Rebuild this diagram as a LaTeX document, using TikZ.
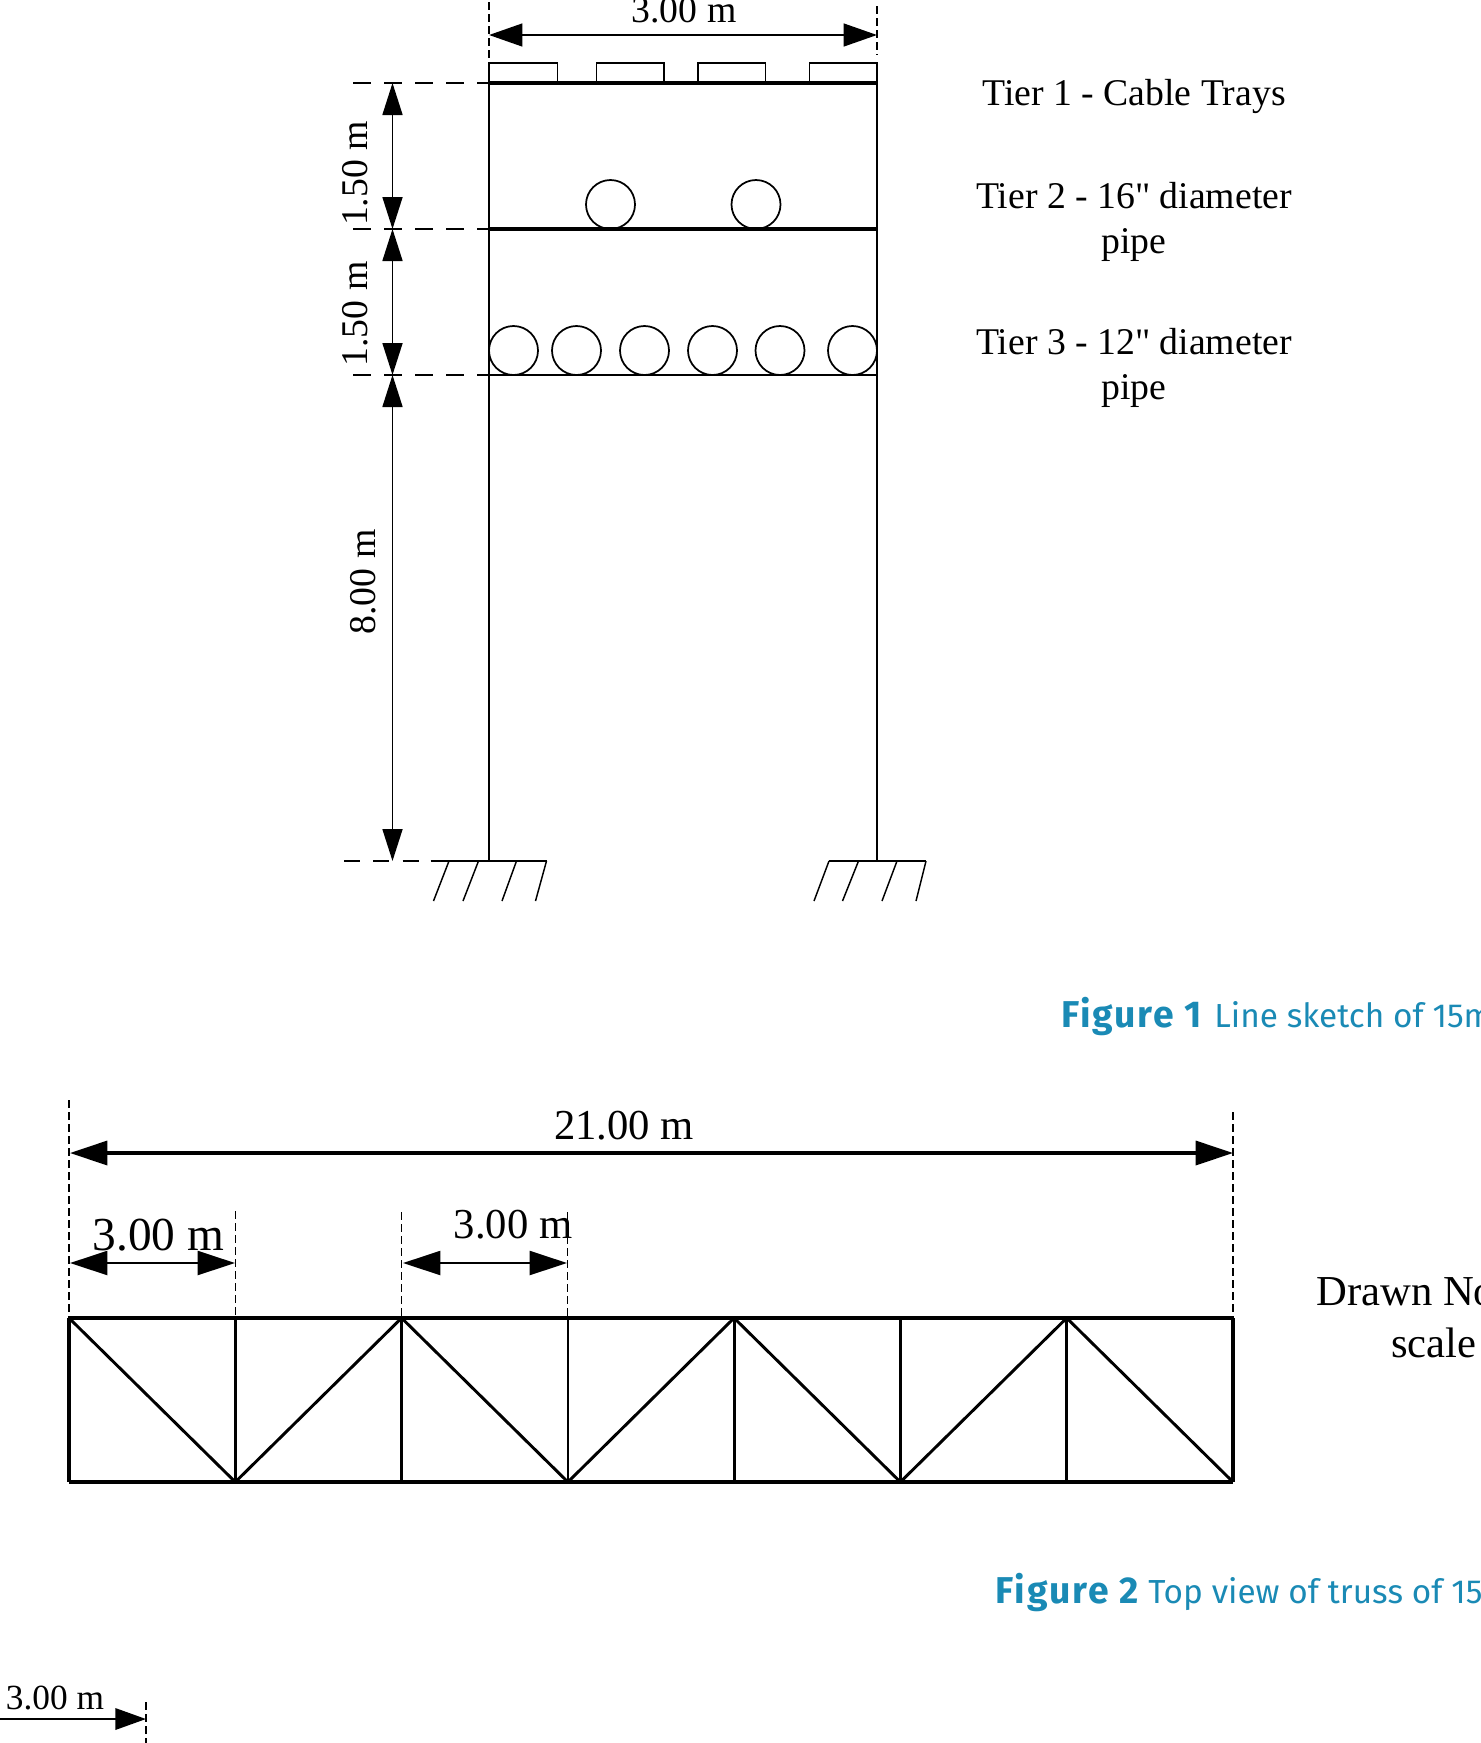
\documentclass[tikz,border=0pt]{standalone}
\usepackage{fontspec}
\setmainfont{Liberation Serif}
\newfontfamily\capfont{Fira Sans}[Ligatures=NoCommon]
\newfontfamily\capboldfont{Fira Sans Bold}[Ligatures=NoCommon,LetterSpace=5]
\font\inchfont="Liberation Serif" at 28pt
\usetikzlibrary{arrows.meta}
\definecolor{capteal}{HTML}{1A8AB5}
\tikzset{
  label/.style={inner sep=0.75pt,anchor=base,align=center},
  lbltxt/.style={label,font=\fontsize{28.3}{34}\selectfont},
  lblbig/.style={label,font=\fontsize{32}{38}\selectfont},
  dimtop/.style={line width=1.8pt,{Triangle[length=25pt,width=17pt]}-{Triangle[length=25pt,width=17pt]}},
  dimleft/.style={line width=1.3pt,{Triangle[length=24pt,width=15pt]}-{Triangle[length=24pt,width=15pt]}},
  dimlong/.style={line width=2.6pt,{Triangle[length=28pt,width=18pt]}-{Triangle[length=28pt,width=18pt]}},
  dimshort/.style={line width=1.6pt,{Triangle[length=28pt,width=18pt]}-{Triangle[length=28pt,width=18pt]}},
  levelline/.style={line width=1.6pt,dash pattern=on 13.5pt off 9.75pt},
  witness/.style={line width=0.8pt,dash pattern=on 6pt off 3pt},
  member/.style={line width=2.2pt},
  pipe/.style={line width=1.3pt},
  hatch/.style={line width=1.1pt},
  captionbold/.style={inner sep=0.75pt,anchor=base west,text=capteal,font=\fontsize{28}{32}\capboldfont},
  caption/.style={inner sep=0.75pt,anchor=base west,text=capteal,font=\fontsize{25}{30}\capfont}
}
\begin{document}
\begin{tikzpicture}[x=0.75pt,y=0.75pt,yscale=-1,xscale=1]
\useasboundingbox (0,0) rectangle (1481,1743);
\clip (0,0) rectangle (1481,1743);

% Frame points
\coordinate (colLtop) at (489,83);
\coordinate (colRtop) at (877,83);
\coordinate (tierLtwo) at (489,229);
\coordinate (tierRtwo) at (877,229);
\coordinate (tierLthree) at (489,375);
\coordinate (tierRthree) at (877,375);
\coordinate (colLbase) at (489,861);
\coordinate (colRbase) at (877,861);

% Columns and beams
\draw [line width=2pt] (colLtop) -- (colLbase) ;
\draw [line width=1.6pt] (colRtop) -- (colRbase) ;
\draw [line width=2.4pt] (colLtop) -- (colRtop) ;
\draw [line width=2.4pt] (tierLtwo) -- (tierRtwo) ;
\draw [line width=1.4pt] (tierLthree) -- (tierRthree) ;

% Cable trays
\draw [pipe] (489,83) -- (489,63) -- (557.5,63) -- (557.5,83) ;
\draw [pipe] (596.5,83) -- (596.5,63) -- (664,63) -- (664,83) ;
\draw [pipe] (698,83) -- (698,63) -- (765.5,63) -- (765.5,83) ;
\draw [pipe] (809.5,83) -- (809.5,63) -- (877,63) -- (877,83) ;

% Pipes, tier 2
\draw [pipe] (610.5,204.5) circle [radius=24.5] ;
\draw [pipe] (756,204.5) circle [radius=24.5] ;
% Pipes, tier 3
\draw [pipe] (513.5,350.5) circle [radius=24.5] ;
\draw [pipe] (576.5,350.5) circle [radius=24.5] ;
\draw [pipe] (644.5,350.5) circle [radius=24.5] ;
\draw [pipe] (712.5,350.5) circle [radius=24.5] ;
\draw [pipe] (780,350.5) circle [radius=24.5] ;
\draw [pipe] (852.5,350.5) circle [radius=24.5] ;

% Supports
\draw [line width=2pt] (430.5,861) -- (546.5,861) ;
\draw [hatch] (449,861) -- (433.5,901) ;
\draw [hatch] (478.5,861) -- (463,901) ;
\draw [hatch] (516.5,861) -- (502,901) ;
\draw [hatch] (546.5,861) -- (535.5,901) ;
\draw [line width=2pt] (829,861) -- (926,861) ;
\draw [hatch] (829,861) -- (814,901) ;
\draw [hatch] (858.5,861) -- (842.5,901) ;
\draw [hatch] (897,861) -- (882,901) ;
\draw [hatch] (926,861) -- (916,901) ;

% Level lines
\coordinate (lvlone) at (392.5,83);
\coordinate (lvltwo) at (392.5,229);
\coordinate (lvlthree) at (392.5,375);
\coordinate (lvlbase) at (392.5,861);
\draw [levelline] (353,83) -- (colLtop) ;
\draw [levelline] (353,229) -- (tierLtwo) ;
\draw [levelline] (353,375) -- (tierLthree) ;
\draw [line width=1.2pt,dash pattern=on 12pt off 10pt] (344,861) -- (430.5,861) ;

% Frame dimensions
\coordinate (topL) at (489,35);
\coordinate (topR) at (877,35);
\draw [dimtop] (topL) -- (topR) ;
\draw [witness] (489,2) -- (colLtop) ;
\draw [witness] (877,6) -- (877,55) ;
\draw [dimleft] (lvlone) -- (lvltwo) ;
\draw [dimleft] (lvltwo) -- (lvlthree) ;
\draw [dimleft] (lvlthree) -- (lvlbase) ;

% Truss joints
\coordinate (ta) at (69,1318);
\coordinate (tb) at (235.3,1318);
\coordinate (tc) at (401.6,1318);
\coordinate (td) at (567.9,1318);
\coordinate (te) at (734.1,1318);
\coordinate (tf) at (900.4,1318);
\coordinate (tg) at (1066.7,1318);
\coordinate (th) at (1233,1318);
\coordinate (ba) at (69,1482);
\coordinate (bb) at (235.3,1482);
\coordinate (bc) at (401.6,1482);
\coordinate (bd) at (567.9,1482);
\coordinate (be) at (734.1,1482);
\coordinate (bf) at (900.4,1482);
\coordinate (bg) at (1066.7,1482);
\coordinate (bh) at (1233,1482);

% Truss chords
\draw [line width=3pt] (ta) -- (th) ;
\draw [line width=2.6pt] (ba) -- (bh) ;
% Truss verticals
\draw [line width=2.6pt] (ta) -- (ba) ;
\draw [member] (tb) -- (bb) ;
\draw [member] (tc) -- (bc) ;
\draw [line width=1.4pt] (td) -- (bd) ;
\draw [member] (te) -- (be) ;
\draw [member] (tf) -- (bf) ;
\draw [member] (tg) -- (bg) ;
\draw [line width=2.6pt] (th) -- (bh) ;
% Truss diagonals
\draw [member] (ta) -- (bb) ;
\draw [member] (bb) -- (tc) ;
\draw [member] (tc) -- (bd) ;
\draw [member] (bd) -- (te) ;
\draw [member] (te) -- (bf) ;
\draw [member] (bf) -- (tg) ;
\draw [member] (tg) -- (bh) ;

% Truss dimensions
\coordinate (spanL) at (70,1153);
\coordinate (spanR) at (1233,1153);
\coordinate (baya) at (70,1263);
\coordinate (bayb) at (235,1263);
\coordinate (bayc) at (403,1263);
\coordinate (bayd) at (567,1263);
\draw [dimlong] (spanL) -- (spanR) ;
\draw [dimshort] (baya) -- (bayb) ;
\draw [dimshort] (bayc) -- (bayd) ;
\draw [witness] (69,1100) -- (ta) ;
\draw [witness] (235.3,1211) -- (tb) ;
\draw [witness] (401.6,1212) -- (tc) ;
\draw [witness] (567.9,1212) -- (td) ;
\draw [witness] (1233,1112) -- (th) ;

% Cut off dimension at the foot of the page
\coordinate (footL) at (-20,1719);
\coordinate (footR) at (146,1719);
\draw [line width=1.8pt,-{Triangle[length=23pt,width=16pt]}] (footL) -- (footR) ;
\draw [witness] (146,1702) -- (146,1743) ;

% Text Node
\node (lblTop) [lbltxt] at (684,22) {3.00 m};
% Text Node
\node (lblOne) [lbltxt,rotate=90] at (367,173.5) {1.50 m};
% Text Node
\node (lblTwo) [lbltxt,rotate=90] at (367,314) {1.50 m};
% Text Node
\node (lblThree) [lbltxt,rotate=90] at (375,582) {8.00 m};
% Text Node
\node (tierOne) [lbltxt] at (1134,105) {Tier 1 - Cable Trays};
% Text Node
\node (tierTwo) [lbltxt] at (1134,208) {Tier 2 - 16{\inchfont\char34} diameter};
% Text Node
\node (tierTwoB) [lbltxt] at (1134,253) {pipe};
% Text Node
\node (tierThree) [lbltxt] at (1134,354) {Tier 3 - 12{\inchfont\char34} diameter};
% Text Node
\node (tierThreeB) [lbltxt] at (1134,399) {pipe};
% Text Node
\node (lblSpan) [lblbig] at (624,1139) {21.00 m};
% Text Node
\node (lblBayA) [lblbig,font=\fontsize{35.5}{40}\selectfont] at (158.5,1250) {3.00 m};
% Text Node
\node (lblBayB) [lblbig] at (513,1238) {3.00 m};
% Text Node
\node (noteA) [lblbig,anchor=base west] at (1315,1305) {Drawn No};
% Text Node
\node (noteB) [lblbig] at (1434,1357) {scale};
% Text Node
\node (lblFoot) [lbltxt,font=\fontsize{26.5}{30}\selectfont] at (55,1709) {3.00 m};
% Text Node
\node (capOne) [captionbold] at (1060,1027) {Figure 1};
% Text Node
\node (capOneB) [caption] at (1213,1027) {Line sketch of 15m};
% Text Node
\node (capTwo) [captionbold] at (994.5,1603) {Figure 2};
% Text Node
\node (capTwoB) [caption] at (1147,1603) {Top view of truss of 15};

\end{tikzpicture}
\end{document}
